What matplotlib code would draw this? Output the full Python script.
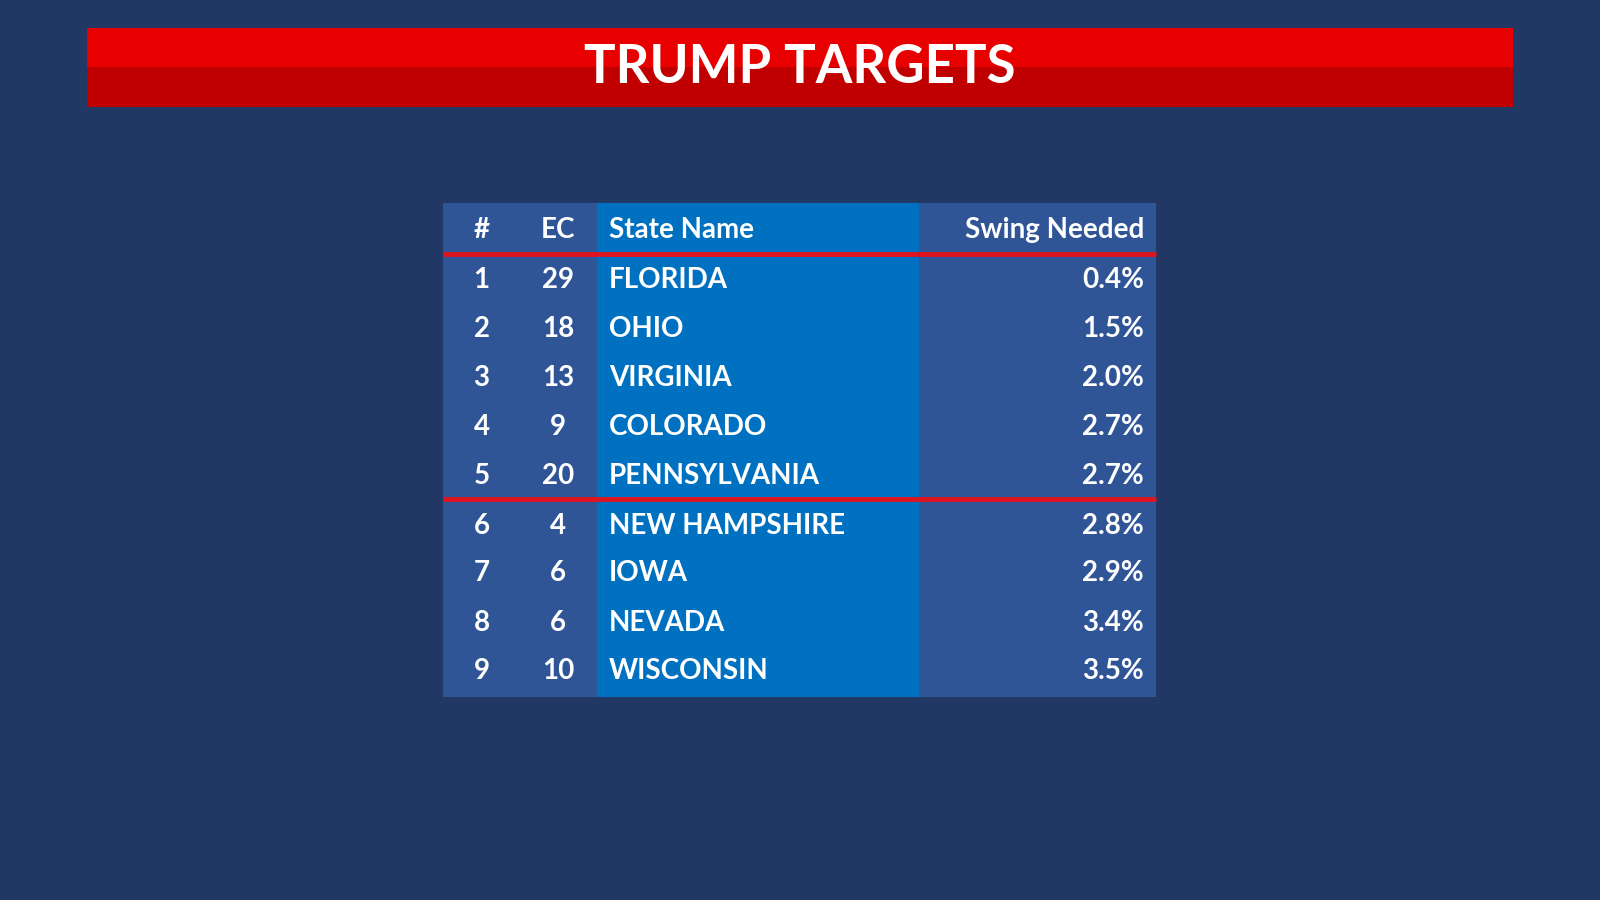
import matplotlib
matplotlib.use("Agg")
import matplotlib.pyplot as plt
from matplotlib.patches import Rectangle

title = "TRUMP TARGETS"
headers = ["#", "EC", "State Name", "Swing Needed"]
ranks = ["1", "2", "3", "4", "5", "6", "7", "8", "9"]
ec_votes = [29, 18, 13, 9, 20, 4, 6, 6, 10]
states = ["FLORIDA", "OHIO", "VIRGINIA", "COLORADO", "PENNSYLVANIA",
          "NEW HAMPSHIRE", "IOWA", "NEVADA", "WISCONSIN"]
swing = [0.4, 1.5, 2.0, 2.7, 2.7, 2.8, 2.9, 3.4, 3.5]
row_y = [274, 322, 370, 418, 466, 515, 562, 611, 658]

W, H = 1568, 882
fig = plt.figure(figsize=(16, 9), dpi=100)
ax = fig.add_axes([0, 0, 1, 1])
ax.set_xlim(0, W); ax.set_ylim(H, 0); ax.axis("off")
fig.patch.set_facecolor("#213864")

font = "Lato"
# banner
ax.add_patch(Rectangle((85, 27), 1398, 40, color="#E80000", lw=0))
ax.add_patch(Rectangle((85, 66), 1398, 39, color="#C00000", lw=0))
ax.text(784, 66, title, color="white", fontsize=38, fontweight="bold",
        fontfamily=font, ha="center", va="center")

# table background
top, bot = 199, 683
ax.add_patch(Rectangle((434, top), 151, bot - top, color="#2F5597", lw=0))
ax.add_patch(Rectangle((585, top), 316, bot - top, color="#0070C0", lw=0))
ax.add_patch(Rectangle((901, top), 232, bot - top, color="#2F5597", lw=0))
for yl in (249, 489):
    ax.plot([434, 1133], [yl, yl], color="#E0141E", lw=3.5, solid_capstyle="butt")

kw = dict(color="white", fontsize=20, fontweight="bold", fontfamily=font, va="center")
hy = 225
ax.text(472, hy, headers[0], ha="center", **kw)
ax.text(547, hy, headers[1], ha="center", **kw)
ax.text(597, hy, headers[2], ha="left", **kw)
ax.text(1121, hy, headers[3], ha="right", **kw)
for r, e, s, v, y in zip(ranks, ec_votes, states, swing, row_y):
    ax.text(472, y, r, ha="center", **kw)
    ax.text(547, y, str(e), ha="center", **kw)
    ax.text(597, y, s, ha="left", **kw)
    ax.text(1121, y, f"{v:.1f}%", ha="right", **kw)

fig.savefig("out.png", dpi=100, facecolor=fig.get_facecolor())
